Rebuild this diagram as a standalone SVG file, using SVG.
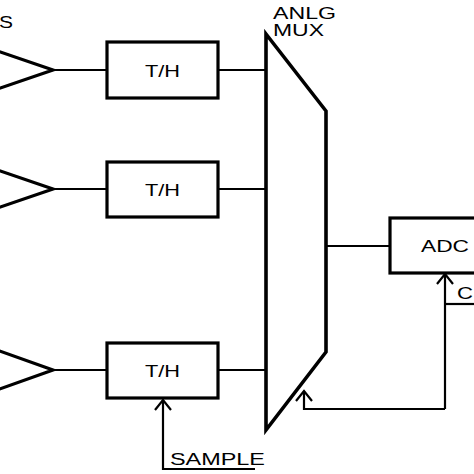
<svg xmlns="http://www.w3.org/2000/svg" width="474" height="474" viewBox="0 0 474 474">
<defs>
<style>
.box{fill:#fff;stroke:#000;stroke-width:3.2}
.amp{fill:none;stroke:#000;stroke-width:3.2;stroke-linejoin:miter}
.wire{fill:none;stroke:#000;stroke-width:2.2}
.lbl{font-family:"Liberation Sans",Arial,sans-serif;font-size:16px;fill:#000}
</style>
<marker id="arr" viewBox="-12 -10 14 20" markerWidth="14" markerHeight="20" refX="0" refY="0" orient="auto" markerUnits="userSpaceOnUse">
<path d="M-10,-8 L0,0 L-10,8" fill="none" stroke="#000" stroke-width="2.2"/>
</marker>
</defs>
<rect width="474" height="474" fill="#fff"/>
<text class="lbl" x="-1" y="28" textLength="14" lengthAdjust="spacingAndGlyphs">S</text>
<g id="connectors">
<path class="wire" d="M55,70 H107"/>
<path class="wire" d="M55,189 H107"/>
<path class="wire" d="M55,370 H107"/>
<path class="wire" d="M218,70 H265"/>
<path class="wire" d="M218,189 H265"/>
<path class="wire" d="M218,370 H265"/>
<path class="wire" d="M326,246 H390"/>
<path class="wire" d="M255,469 H163 V400" marker-end="url(#arr)"/>
<path class="wire" d="M445,409 V274" marker-end="url(#arr)"/>
<path class="wire" d="M445,409 H304 V391" marker-end="url(#arr)"/>
<path class="wire" d="M445,304 H476"/>
</g>
<g id="amp1"><polyline class="amp" points="-20,45 53,70 -20,95"/></g>
<g id="amp2"><polyline class="amp" points="-20,164 53,189 -20,214"/></g>
<g id="amp3"><polyline class="amp" points="-20,344 53,370 -20,396"/></g>
<g id="th1"><rect class="box" x="107" y="42" width="111" height="56"/><text class="lbl" x="145" y="77" textLength="35" lengthAdjust="spacingAndGlyphs">T/H</text></g>
<g id="th2"><rect class="box" x="107" y="162" width="111" height="55"/><text class="lbl" x="145" y="196" textLength="35" lengthAdjust="spacingAndGlyphs">T/H</text></g>
<g id="th3"><rect class="box" x="107" y="343" width="111" height="55"/><text class="lbl" x="145" y="377" textLength="35" lengthAdjust="spacingAndGlyphs">T/H</text></g>
<g id="mux">
<polygon points="266,34 326,111 326,352 266,430" fill="none" stroke="#000" stroke-width="3.6"/>
<text class="lbl" x="273" y="19" textLength="63" lengthAdjust="spacingAndGlyphs">ANLG</text>
<text class="lbl" x="273" y="36" textLength="51" lengthAdjust="spacingAndGlyphs">MUX</text>
</g>
<g id="adc"><rect class="box" x="390" y="218" width="100" height="55"/><text class="lbl" x="421" y="252" textLength="48" lengthAdjust="spacingAndGlyphs">ADC</text></g>
<text class="lbl" x="170" y="465" textLength="95" lengthAdjust="spacingAndGlyphs">SAMPLE</text>
<text class="lbl" x="457" y="299" textLength="16" lengthAdjust="spacingAndGlyphs">C</text>
</svg>
